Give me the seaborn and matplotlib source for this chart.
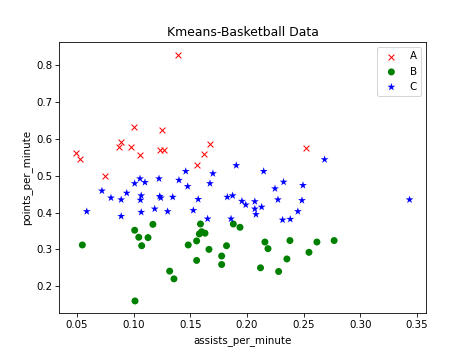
import matplotlib
matplotlib.use("Agg")
import matplotlib.pyplot as plt
import seaborn as sns

# cluster A (red x)
a_assists = [0.139, 0.100, 0.125, 0.049, 0.0527, 0.0886, 0.087, 0.0977, 0.1056,
             0.1235, 0.127, 0.167, 0.162, 0.1556, 0.0744, 0.252]
a_points = [0.829, 0.632, 0.624, 0.561, 0.546, 0.592, 0.579, 0.579, 0.555,
            0.570, 0.570, 0.585, 0.559, 0.528, 0.499, 0.576]

# cluster B (green circles)
b_assists = [0.0547, 0.1009, 0.1045, 0.1127, 0.1071, 0.117, 0.1012, 0.1318, 0.1356,
             0.1482, 0.1556, 0.1556, 0.159, 0.160, 0.163, 0.158, 0.1665, 0.1777,
             0.1777, 0.182, 0.188, 0.1939, 0.212, 0.2159, 0.2186, 0.238, 0.2618,
             0.277, 0.2548, 0.2353, 0.228]
b_points = [0.312, 0.352, 0.333, 0.332, 0.310, 0.368, 0.160, 0.241, 0.220,
            0.312, 0.323, 0.270, 0.369, 0.348, 0.344, 0.342, 0.300, 0.282,
            0.259, 0.310, 0.369, 0.360, 0.250, 0.320, 0.302, 0.324, 0.320,
            0.324, 0.292, 0.274, 0.240]

# cluster C (blue stars)
c_assists = [0.0586, 0.072, 0.080, 0.089, 0.089, 0.0939, 0.1009, 0.1056, 0.110,
             0.1067, 0.106, 0.1067, 0.1224, 0.123, 0.124, 0.1186, 0.130, 0.1345,
             0.140, 0.146, 0.1477, 0.1527, 0.157, 0.1653, 0.1674, 0.170, 0.1906,
             0.1827, 0.1874, 0.186, 0.1956, 0.199, 0.207, 0.207, 0.208, 0.213,
             0.2686, 0.2148, 0.2324, 0.2248, 0.2495, 0.2274, 0.2486, 0.245, 0.2315,
             0.2383, 0.3436]
c_points = [0.403, 0.459, 0.440, 0.435, 0.390, 0.453, 0.479, 0.492, 0.482,
            0.446, 0.434, 0.401, 0.492, 0.444, 0.440, 0.410, 0.403, 0.442,
            0.488, 0.512, 0.471, 0.406, 0.436, 0.383, 0.479, 0.506, 0.528,
            0.442, 0.446, 0.383, 0.431, 0.421, 0.430, 0.410, 0.395, 0.415,
            0.544, 0.512, 0.483, 0.465, 0.474, 0.435, 0.433, 0.403, 0.380,
            0.382, 0.435]

fig, ax = plt.subplots(figsize=(6.4, 4.757), dpi=74)

sns.scatterplot(x=a_assists, y=a_points, marker="x", color="red", label="A",
                s=32, linewidth=1, ax=ax)
sns.scatterplot(x=b_assists, y=b_points, marker="o", color="green", label="B",
                s=46, edgecolor="none", ax=ax)
sns.scatterplot(x=c_assists, y=c_points, marker="*", color="blue", label="C",
                s=64, edgecolor="none", ax=ax)

ax.set_title("Kmeans-Basketball Data")
ax.set_xlabel("assists_per_minute")
ax.set_ylabel("points_per_minute")
ax.legend(loc="upper right")

fig.savefig("out.png", dpi=74)
